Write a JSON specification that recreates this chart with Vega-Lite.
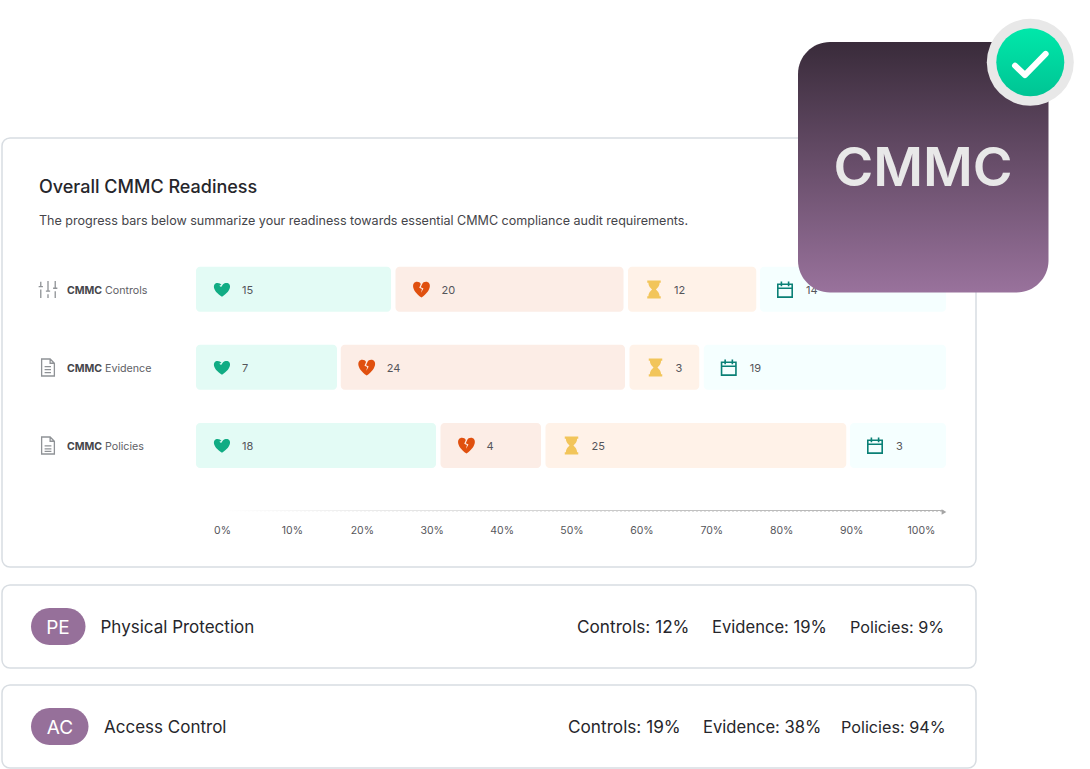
{
"$schema":"https://vega.github.io/schema/vega-lite/v6.json",
"width":1090,"height":769,"padding":0,
"autosize":{"type":"fit","contains":"padding"},
"background":"#ffffff",
"config":{"view":{"stroke":null},"text":{"font":"Inter"},"scale":{"pointPadding":0}},
"resolve":{"scale":{"x":"independent","y":"independent","shape":"independent","color":"independent","fill":"independent"},"axis":{"x":"independent","y":"independent"}},
"datasets":{
"one":[{"note":"frame"}],
"bars":[
{"row":"Controls","status":"Healthy","count":15,"start":0,"end":26},
{"row":"Controls","status":"At risk","count":20,"start":26.6,"end":57},
{"row":"Controls","status":"Pending","count":12,"start":57.6,"end":74.7},
{"row":"Controls","status":"Scheduled","count":14,"start":75.2,"end":100},
{"row":"Evidence","status":"Healthy","count":7,"start":0,"end":18.8},
{"row":"Evidence","status":"At risk","count":24,"start":19.3,"end":57.2},
{"row":"Evidence","status":"Pending","count":3,"start":57.8,"end":67.1},
{"row":"Evidence","status":"Scheduled","count":19,"start":67.7,"end":100},
{"row":"Policies","status":"Healthy","count":18,"start":0,"end":32},
{"row":"Policies","status":"At risk","count":4,"start":32.6,"end":46},
{"row":"Policies","status":"Pending","count":25,"start":46.6,"end":86.7},
{"row":"Policies","status":"Scheduled","count":3,"start":87.2,"end":100}],
"rows":[{"row":"Controls"},{"row":"Evidence"},{"row":"Policies"}],
"panels":[{"panel":"PE","name":"Physical Protection"},{"panel":"AC","name":"Access Control"}],
"metrics":[
{"panel":"PE","metric":"Controls","text":"Controls: 12%"},
{"panel":"PE","metric":"Evidence","text":"Evidence: 19%"},
{"panel":"PE","metric":"Policies","text":"Policies: 9%"},
{"panel":"AC","metric":"Controls","text":"Controls: 19%"},
{"panel":"AC","metric":"Evidence","text":"Evidence: 38%"},
{"panel":"AC","metric":"Policies","text":"Policies: 94%"}]
},
"layer":[
{"data":{"name":"one"},"mark":{"type":"rect","fill":"#ffffff","stroke":"#d8dde2","strokeWidth":1.5,"cornerRadius":8},
"encoding":{"x":{"datum":2,"type":"quantitative","scale":{"domain":[0,1090],"range":[0,1090]},"axis":null},"x2":{"datum":976},"y":{"datum":138,"type":"quantitative","scale":{"domain":[0,769],"range":[0,769]},"axis":null},"y2":{"datum":567}}},
{"data":{"name":"panels"},"mark":{"type":"bar","size":83,"fill":"#ffffff","stroke":"#d8dde2","strokeWidth":1.5,"cornerRadius":8},
"encoding":{"x":{"datum":2,"type":"quantitative","scale":{"domain":[0,1090],"range":[0,1090]},"axis":null},"x2":{"datum":976},"y":{"field":"panel","type":"ordinal","scale":{"type":"point","padding":0,"domain":["PE","AC"],"range":[626.5,726.5]},"axis":null}}},
{"data":{"name":"one"},"mark":{"type":"text","text":"Overall CMMC Readiness","align":"left","baseline":"middle","fontSize":18,"fontWeight":500,"fill":"#26262b"},
"encoding":{"x":{"datum":39,"type":"quantitative","scale":{"domain":[0,1090],"range":[0,1090]},"axis":null},"y":{"datum":187.5,"type":"quantitative","scale":{"domain":[0,769],"range":[0,769]},"axis":null}}},
{"data":{"name":"one"},"mark":{"type":"text","text":"The progress bars below summarize your readiness towards essential CMMC compliance audit requirements.","align":"left","baseline":"middle","fontSize":12.55,"fill":"#45454a"},
"encoding":{"x":{"datum":39,"type":"quantitative","scale":{"domain":[0,1090],"range":[0,1090]},"axis":null},"y":{"datum":220.5,"type":"quantitative","scale":{"domain":[0,769],"range":[0,769]},"axis":null}}},
{"data":{"name":"rows"},"mark":{"type":"point","filled":false,"size":289,"stroke":"#8f9296","strokeWidth":1.3,"opacity":1},
"encoding":{"x":{"datum":48,"type":"quantitative","scale":{"domain":[0,1090],"range":[0,1090]},"axis":null},"y":{"field":"row","type":"ordinal","scale":{"type":"point","padding":0,"domain":["Controls","Evidence","Policies"],"range":[289.5,445.5]},"axis":null},
"shape":{"field":"row","type":"nominal","legend":null,"scale":{"domain":["Controls","Evidence","Policies"],"range":["M-0.85,-0.9 V-0.35 M-1.1,-0.35 H-0.6 M-0.85,0 V1 M0,-1 V0.2 M-0.25,0.2 H0.25 M0,0.55 V1 M0.85,-1 V-0.15 M0.6,-0.15 H1.1 M0.85,0.2 V1","M-0.75,-1 H0.25 L0.75,-0.5 V1 H-0.75 Z M0.25,-1 V-0.5 H0.75 M-0.4,-0.1 H0.35 M-0.4,0.25 H0.35 M-0.4,0.6 H0.35","M-0.75,-1 H0.25 L0.75,-0.5 V1 H-0.75 Z M0.25,-1 V-0.5 H0.75 M-0.4,0.05 H0.4 M-0.4,0.4 H0.4 M-0.4,0.7 H0.4"]}}}},
{"data":{"name":"rows"},"mark":{"type":"text","text":"CMMC","align":"left","baseline":"middle","fontSize":10.5,"fontWeight":700,"fill":"#45454a"},
"encoding":{"x":{"datum":67,"type":"quantitative","scale":{"domain":[0,1090],"range":[0,1090]},"axis":null},"y":{"field":"row","type":"ordinal","scale":{"type":"point","padding":0,"domain":["Controls","Evidence","Policies"],"range":[291,447]},"axis":null}}},
{"data":{"name":"rows"},"mark":{"type":"text","align":"left","baseline":"middle","fontSize":10.7,"fill":"#606065"},
"encoding":{"x":{"datum":105,"type":"quantitative","scale":{"domain":[0,1090],"range":[0,1090]},"axis":null},"y":{"field":"row","type":"ordinal","scale":{"type":"point","padding":0,"domain":["Controls","Evidence","Policies"],"range":[291,447]},"axis":null},"text":{"field":"row"}}},
{"data":{"name":"bars"},"mark":{"type":"bar","cornerRadius":4},
"encoding":{"x":{"field":"start","type":"quantitative","scale":{"domain":[0,100],"range":[196,946],"nice":false,"zero":false},"axis":null},"x2":{"field":"end"},
"y":{"field":"row","type":"ordinal","scale":{"type":"point","padding":0,"domain":["Controls","Evidence","Policies"],"range":[289.2,445.5]},"axis":null},
"size":{"field":"status","type":"nominal","legend":null,"scale":{"domain":["Healthy","At risk","Pending","Scheduled"],"range":[45,45,45,41]}},
"color":{"field":"status","type":"nominal","legend":null,"scale":{"domain":["Healthy","At risk","Pending","Scheduled"],"range":["#e3fbf5","#fcede6","#fff2e8","#f5ffff"]}}}},
{"data":{"name":"bars"},"transform":[{"filter":"datum.status !== 'Scheduled'"}],"mark":{"type":"point","filled":true,"size":324,"opacity":1,"xOffset":26},
"encoding":{"x":{"field":"start","type":"quantitative","scale":{"domain":[0,100],"range":[196,946],"nice":false,"zero":false},"axis":null},
"y":{"field":"row","type":"ordinal","scale":{"type":"point","padding":0,"domain":["Controls","Evidence","Policies"],"range":[289.5,445.5]},"axis":null},
"shape":{"field":"status","type":"nominal","legend":null,"scale":{"domain":["Healthy","At risk","Pending"],"range":["M0,0.8 C-1.15,0.1 -1.05,-0.72 -0.5,-0.72 C-0.3,-0.72 -0.15,-0.62 -0.05,-0.52 L-0.3,-0.42 L-0.1,-0.28 L0.12,-0.58 C0.22,-0.68 0.35,-0.72 0.5,-0.72 C1.05,-0.72 1.15,0.1 0,0.8 Z","M0,0.9 C-1.2,0.1 -1.1,-0.85 -0.5,-0.85 C-0.3,-0.85 -0.15,-0.75 -0.08,-0.62 L-0.25,-0.2 L0.05,-0.05 L-0.05,0.35 L0.22,-0.1 L-0.08,-0.25 L0.08,-0.62 C0.15,-0.75 0.3,-0.85 0.5,-0.85 C1.1,-0.85 1.2,0.1 0,0.9 Z","M-0.75,-1 H0.75 V-0.75 H0.62 C0.62,-0.3 0.32,-0.15 0.22,0 C0.32,0.15 0.62,0.3 0.62,0.75 H0.75 V1 H-0.75 V0.75 H-0.62 C-0.62,0.3 -0.32,0.15 -0.22,0 C-0.32,-0.15 -0.62,-0.3 -0.62,-0.75 H-0.75 Z"]}},
"fill":{"field":"status","type":"nominal","legend":null,"scale":{"domain":["Healthy","At risk","Pending"],"range":["#11ac84","#e0500f","#f2c55a"]}}}},
{"data":{"name":"bars"},"transform":[{"filter":"datum.status === 'Scheduled'"}],"mark":{"type":"point","filled":false,"size":256,"opacity":1,"xOffset":25,"stroke":"#0a8076","strokeWidth":1.6,"shape":"M-0.9,-0.65 H0.9 V0.95 H-0.9 Z M-0.9,-0.15 H0.9 M-0.45,-1 V-0.4 M0.45,-1 V-0.4"},
"encoding":{"x":{"field":"start","type":"quantitative","scale":{"domain":[0,100],"range":[196,946],"nice":false,"zero":false},"axis":null},
"y":{"field":"row","type":"ordinal","scale":{"type":"point","padding":0,"domain":["Controls","Evidence","Policies"],"range":[289.5,445.5]},"axis":null}}},
{"data":{"name":"bars"},"mark":{"type":"text","align":"left","baseline":"middle","dx":46,"fontSize":11,"fill":"#55555a"},
"encoding":{"x":{"field":"start","type":"quantitative","scale":{"domain":[0,100],"range":[196,946],"nice":false,"zero":false},"axis":null},
"y":{"field":"row","type":"ordinal","scale":{"type":"point","padding":0,"domain":["Controls","Evidence","Policies"],"range":[291,447]},"axis":null},"text":{"field":"count","type":"quantitative"}}},
{"data":{"name":"one"},"mark":{"type":"bar","size":1.5,"fill":{"gradient":"linear","x1":0,"y1":0,"x2":1,"y2":0,"stops":[{"offset":0,"color":"#ffffff"},{"offset":0.6,"color":"#c4c4c4"},{"offset":1,"color":"#b0b0b0"}]}},
"encoding":{"x":{"datum":0,"type":"quantitative","scale":{"domain":[0,1],"range":[222,921],"nice":false,"zero":false},
"axis":{"orient":"bottom","zindex":1,"offset":-239,"values":[0,0.1,0.2,0.3,0.4,0.5,0.6,0.7,0.8,0.9,1],"format":".0%","domain":false,"ticks":false,"grid":false,"title":null,"labelPadding":0,"labelBaseline":"middle","labelFlush":false,"labelOverlap":false,"labelFont":"Inter","labelFontSize":10.5,"labelColor":"#55555a"}},"x2":{"datum":1.032},
"y":{"datum":512.5,"type":"quantitative","scale":{"domain":[0,769],"range":[0,769]},"axis":null}}},
{"data":{"name":"one"},"mark":{"type":"rule","stroke":"#ffffff","strokeWidth":3,"strokeDash":[2,2]},
"encoding":{"x":{"datum":222,"type":"quantitative","scale":{"domain":[0,1090],"range":[0,1090]},"axis":null},"x2":{"datum":941},"y":{"datum":512.5,"type":"quantitative","scale":{"domain":[0,769],"range":[0,769]},"axis":null}}},
{"data":{"name":"one"},"mark":{"type":"point","shape":"triangle-right","filled":true,"size":30,"opacity":1,"fill":"#a5a5a5"},
"encoding":{"x":{"datum":944,"type":"quantitative","scale":{"domain":[0,1090],"range":[0,1090]},"axis":null},"y":{"datum":512,"type":"quantitative","scale":{"domain":[0,769],"range":[0,769]},"axis":null}}},
{"data":{"name":"panels"},"transform":[{"filter":"datum.panel === 'PE'"}],"mark":{"type":"bar","size":37,"cornerRadius":18.5,"fill":"#96709a"},
"encoding":{"x":{"datum":31,"type":"quantitative","scale":{"domain":[0,1090],"range":[0,1090]},"axis":null},"x2":{"datum":85.5},"y":{"field":"panel","type":"ordinal","scale":{"type":"point","padding":0,"domain":["PE","AC"],"range":[626.5,726.5]},"axis":null}}},
{"data":{"name":"panels"},"transform":[{"filter":"datum.panel === 'AC'"}],"mark":{"type":"bar","size":37,"cornerRadius":18.5,"fill":"#96709a"},
"encoding":{"x":{"datum":31,"type":"quantitative","scale":{"domain":[0,1090],"range":[0,1090]},"axis":null},"x2":{"datum":88.5},"y":{"field":"panel","type":"ordinal","scale":{"type":"point","padding":0,"domain":["PE","AC"],"range":[626.5,726.5]},"axis":null}}},
{"data":{"name":"panels"},"mark":{"type":"text","align":"center","baseline":"middle","fontSize":19,"fill":"#ffffff"},
"encoding":{"x":{"field":"panel","type":"ordinal","scale":{"type":"point","padding":0,"domain":["PE","AC"],"range":[58,60]},"axis":null},"y":{"field":"panel","type":"ordinal","scale":{"type":"point","padding":0,"domain":["PE","AC"],"range":[628,728]},"axis":null},"text":{"field":"panel"}}},
{"data":{"name":"panels"},"mark":{"type":"text","align":"left","baseline":"middle","fontSize":17,"fill":"#26262b"},
"encoding":{"x":{"field":"panel","type":"ordinal","scale":{"type":"point","padding":0,"domain":["PE","AC"],"range":[100.5,104]},"axis":null},"y":{"field":"panel","type":"ordinal","scale":{"type":"point","padding":0,"domain":["PE","AC"],"range":[628,728]},"axis":null},"text":{"field":"name"}}},
{"data":{"name":"metrics"},"transform":[{"filter":"datum.metric === 'Controls'"}],"mark":{"type":"text","align":"left","baseline":"middle","fontSize":17.2,"fill":"#26262b"},
"encoding":{"x":{"field":"panel","type":"ordinal","scale":{"type":"point","padding":0,"domain":["PE","AC"],"range":[577,568]},"axis":null},"y":{"field":"panel","type":"ordinal","scale":{"type":"point","padding":0,"domain":["PE","AC"],"range":[628,728]},"axis":null},"text":{"field":"text"}}},
{"data":{"name":"metrics"},"transform":[{"filter":"datum.metric === 'Evidence'"}],"mark":{"type":"text","align":"left","baseline":"middle","fontSize":16.6,"fill":"#26262b"},
"encoding":{"x":{"field":"panel","type":"ordinal","scale":{"type":"point","padding":0,"domain":["PE","AC"],"range":[712,703]},"axis":null},"y":{"field":"panel","type":"ordinal","scale":{"type":"point","padding":0,"domain":["PE","AC"],"range":[628,728]},"axis":null},"text":{"field":"text"}}},
{"data":{"name":"metrics"},"transform":[{"filter":"datum.metric === 'Policies'"}],"mark":{"type":"text","align":"left","baseline":"middle","fontSize":16.2,"fill":"#26262b"},
"encoding":{"x":{"field":"panel","type":"ordinal","scale":{"type":"point","padding":0,"domain":["PE","AC"],"range":[850,841]},"axis":null},"y":{"field":"panel","type":"ordinal","scale":{"type":"point","padding":0,"domain":["PE","AC"],"range":[628,728]},"axis":null},"text":{"field":"text"}}},
{"data":{"name":"one"},"mark":{"type":"rect","cornerRadius":32,"fill":{"gradient":"linear","x1":0,"y1":0,"x2":0,"y2":1,"stops":[{"offset":0,"color":"#392b3a"},{"offset":1,"color":"#99729c"}]}},
"encoding":{"x":{"datum":798,"type":"quantitative","scale":{"domain":[0,1090],"range":[0,1090]},"axis":null},"x2":{"datum":1048.5},"y":{"datum":42,"type":"quantitative","scale":{"domain":[0,769],"range":[0,769]},"axis":null},"y2":{"datum":292.5}}},
{"data":{"name":"one"},"mark":{"type":"text","text":"CMMC","align":"center","baseline":"middle","fontSize":54,"fontWeight":600,"fill":"#e8e8e8"},
"encoding":{"x":{"datum":923,"type":"quantitative","scale":{"domain":[0,1090],"range":[0,1090]},"axis":null},"y":{"datum":170,"type":"quantitative","scale":{"domain":[0,769],"range":[0,769]},"axis":null}}},
{"data":{"name":"one"},"mark":{"type":"point","shape":"circle","filled":true,"size":7569,"opacity":1,"fill":"#e8e8e8"},
"encoding":{"x":{"datum":1030.3,"type":"quantitative","scale":{"domain":[0,1090],"range":[0,1090]},"axis":null},"y":{"datum":62.3,"type":"quantitative","scale":{"domain":[0,769],"range":[0,769]},"axis":null}}},
{"data":{"name":"one"},"mark":{"type":"point","shape":"circle","filled":true,"size":4624,"opacity":1,"fill":{"gradient":"linear","x1":0,"y1":0,"x2":0,"y2":1,"stops":[{"offset":0,"color":"#00e8aa"},{"offset":1,"color":"#00c494"}]}},
"encoding":{"x":{"datum":1030.3,"type":"quantitative","scale":{"domain":[0,1090],"range":[0,1090]},"axis":null},"y":{"datum":62.3,"type":"quantitative","scale":{"domain":[0,769],"range":[0,769]},"axis":null}}},
{"data":{"name":"one"},"mark":{"type":"point","shape":"M-0.88,0.07 L-0.3,0.62 L0.92,-0.62","filled":false,"size":1156,"opacity":1,"stroke":"#ffffff","strokeWidth":6,"strokeCap":"round","strokeJoin":"round"},
"encoding":{"x":{"datum":1030,"type":"quantitative","scale":{"domain":[0,1090],"range":[0,1090]},"axis":null},"y":{"datum":64.5,"type":"quantitative","scale":{"domain":[0,769],"range":[0,769]},"axis":null}}}
]
}
